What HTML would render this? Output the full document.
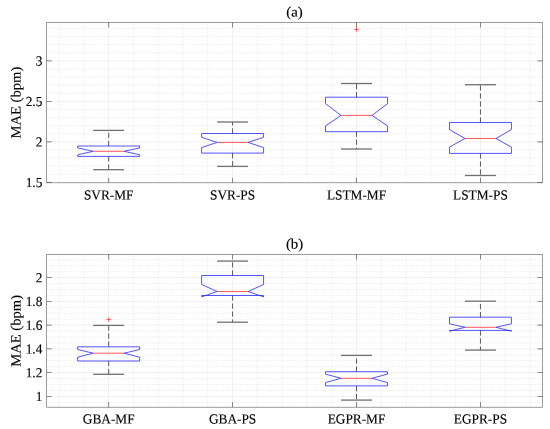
<!DOCTYPE html>
<html lang="en"><head><meta charset="utf-8"><title>Boxplots of MAE (bpm)</title>
<style>
html,body{margin:0;padding:0;background:#fff;}
body{width:550px;height:429px;overflow:hidden;}
svg{display:block;font-family:"Liberation Serif","Times New Roman",serif;}
.ax{stroke:#262626;stroke-width:0.6;opacity:.75}
.tk{stroke:#262626;stroke-width:.7;opacity:.8}
.mj{stroke:#eeeeee;stroke-width:.9}
.mn{stroke:#e4e4e4;stroke-width:.8;stroke-dasharray:1 1.2}
.wh{stroke:#333;stroke-width:.8;stroke-dasharray:5.2 2.8}
.cap{stroke:#707070;stroke-width:1.3}
.bx{stroke:#2a2aff;stroke-width:.8;fill:none;stroke-linejoin:miter}
.md{stroke:#ff3030;stroke-width:.8}
.ol{stroke:#ff3030;stroke-width:.7;fill:none}
.t text{fill:#000;stroke:#000;stroke-width:.14}
</style></head>
<body>
<svg width="550" height="429" viewBox="0 0 550 429">
<rect width="550" height="429" fill="#fff"/>
<g><line x1="59.09" y1="22.5" x2="59.09" y2="182.8" class="mn"/><line x1="83.88" y1="22.5" x2="83.88" y2="182.8" class="mn"/><line x1="108.66" y1="22.5" x2="108.66" y2="182.8" class="mj"/><line x1="133.45" y1="22.5" x2="133.45" y2="182.8" class="mn"/><line x1="158.23" y1="22.5" x2="158.23" y2="182.8" class="mn"/><line x1="183.02" y1="22.5" x2="183.02" y2="182.8" class="mn"/><line x1="207.80" y1="22.5" x2="207.80" y2="182.8" class="mn"/><line x1="232.59" y1="22.5" x2="232.59" y2="182.8" class="mj"/><line x1="257.37" y1="22.5" x2="257.37" y2="182.8" class="mn"/><line x1="282.16" y1="22.5" x2="282.16" y2="182.8" class="mn"/><line x1="306.94" y1="22.5" x2="306.94" y2="182.8" class="mn"/><line x1="331.73" y1="22.5" x2="331.73" y2="182.8" class="mn"/><line x1="356.51" y1="22.5" x2="356.51" y2="182.8" class="mj"/><line x1="381.30" y1="22.5" x2="381.30" y2="182.8" class="mn"/><line x1="406.08" y1="22.5" x2="406.08" y2="182.8" class="mn"/><line x1="430.87" y1="22.5" x2="430.87" y2="182.8" class="mn"/><line x1="455.65" y1="22.5" x2="455.65" y2="182.8" class="mn"/><line x1="480.44" y1="22.5" x2="480.44" y2="182.8" class="mj"/><line x1="505.22" y1="22.5" x2="505.22" y2="182.8" class="mn"/><line x1="530.01" y1="22.5" x2="530.01" y2="182.8" class="mn"/><line x1="46.7" y1="174.30" x2="542.4" y2="174.30" class="mn"/><line x1="46.7" y1="166.20" x2="542.4" y2="166.20" class="mn"/><line x1="46.7" y1="158.10" x2="542.4" y2="158.10" class="mn"/><line x1="46.7" y1="150.00" x2="542.4" y2="150.00" class="mn"/><line x1="46.7" y1="141.90" x2="542.4" y2="141.90" class="mj"/><line x1="46.7" y1="133.80" x2="542.4" y2="133.80" class="mn"/><line x1="46.7" y1="125.70" x2="542.4" y2="125.70" class="mn"/><line x1="46.7" y1="117.60" x2="542.4" y2="117.60" class="mn"/><line x1="46.7" y1="109.50" x2="542.4" y2="109.50" class="mn"/><line x1="46.7" y1="101.40" x2="542.4" y2="101.40" class="mj"/><line x1="46.7" y1="93.30" x2="542.4" y2="93.30" class="mn"/><line x1="46.7" y1="85.20" x2="542.4" y2="85.20" class="mn"/><line x1="46.7" y1="77.10" x2="542.4" y2="77.10" class="mn"/><line x1="46.7" y1="69.00" x2="542.4" y2="69.00" class="mn"/><line x1="46.7" y1="60.90" x2="542.4" y2="60.90" class="mj"/><line x1="46.7" y1="52.80" x2="542.4" y2="52.80" class="mn"/><line x1="46.7" y1="44.70" x2="542.4" y2="44.70" class="mn"/><line x1="46.7" y1="36.60" x2="542.4" y2="36.60" class="mn"/><line x1="46.7" y1="28.50" x2="542.4" y2="28.50" class="mn"/></g>
<g><line x1="108.66" y1="146.00" x2="108.66" y2="130.40" class="wh"/><line x1="108.66" y1="156.40" x2="108.66" y2="169.70" class="wh"/><line x1="93.17" y1="130.40" x2="124.15" y2="130.40" class="cap"/><line x1="93.17" y1="169.70" x2="124.15" y2="169.70" class="cap"/><polyline points="77.68,156.40 77.68,154.80 93.17,151.30 77.68,147.90 77.68,146.00 139.64,146.00 139.64,147.90 124.15,151.30 139.64,154.80 139.64,156.40 77.68,156.40" class="bx"/><line x1="93.17" y1="151.30" x2="124.15" y2="151.30" class="md"/></g>
<g><line x1="232.59" y1="133.50" x2="232.59" y2="122.00" class="wh"/><line x1="232.59" y1="153.10" x2="232.59" y2="166.40" class="wh"/><line x1="217.10" y1="122.00" x2="248.08" y2="122.00" class="cap"/><line x1="217.10" y1="166.40" x2="248.08" y2="166.40" class="cap"/><polyline points="201.61,153.10 201.61,147.60 217.10,142.40 201.61,137.30 201.61,133.50 263.57,133.50 263.57,137.30 248.08,142.40 263.57,147.60 263.57,153.10 201.61,153.10" class="bx"/><line x1="217.10" y1="142.40" x2="248.08" y2="142.40" class="md"/></g>
<g><line x1="356.51" y1="97.20" x2="356.51" y2="83.50" class="wh"/><line x1="356.51" y1="131.70" x2="356.51" y2="149.00" class="wh"/><line x1="341.02" y1="83.50" x2="372.00" y2="83.50" class="cap"/><line x1="341.02" y1="149.00" x2="372.00" y2="149.00" class="cap"/><polyline points="325.53,131.70 325.53,125.90 341.02,115.40 325.53,103.70 325.53,97.20 387.49,97.20 387.49,103.70 372.00,115.40 387.49,125.90 387.49,131.70 325.53,131.70" class="bx"/><line x1="341.02" y1="115.40" x2="372.00" y2="115.40" class="md"/><path d="M354.21 29.50H358.81M356.51 27.20V31.80" class="ol"/></g>
<g><line x1="480.44" y1="122.50" x2="480.44" y2="84.70" class="wh"/><line x1="480.44" y1="153.40" x2="480.44" y2="175.50" class="wh"/><line x1="464.95" y1="84.70" x2="495.93" y2="84.70" class="cap"/><line x1="464.95" y1="175.50" x2="495.93" y2="175.50" class="cap"/><polyline points="449.46,153.40 449.46,147.10 464.95,138.50 449.46,129.60 449.46,122.50 511.42,122.50 511.42,129.60 495.93,138.50 511.42,147.10 511.42,153.40 449.46,153.40" class="bx"/><line x1="464.95" y1="138.50" x2="495.93" y2="138.50" class="md"/></g>
<g><rect x="46.7" y="22.5" width="495.70" height="160.30" class="ax" fill="none"/><line x1="108.66" y1="182.8" x2="108.66" y2="177.8" class="tk"/><line x1="108.66" y1="22.5" x2="108.66" y2="27.5" class="tk"/><line x1="232.59" y1="182.8" x2="232.59" y2="177.8" class="tk"/><line x1="232.59" y1="22.5" x2="232.59" y2="27.5" class="tk"/><line x1="356.51" y1="182.8" x2="356.51" y2="177.8" class="tk"/><line x1="356.51" y1="22.5" x2="356.51" y2="27.5" class="tk"/><line x1="480.44" y1="182.8" x2="480.44" y2="177.8" class="tk"/><line x1="480.44" y1="22.5" x2="480.44" y2="27.5" class="tk"/><line x1="46.7" y1="182.40" x2="51.7" y2="182.40" class="tk"/><line x1="542.4" y1="182.40" x2="537.4" y2="182.40" class="tk"/><line x1="46.7" y1="141.90" x2="51.7" y2="141.90" class="tk"/><line x1="542.4" y1="141.90" x2="537.4" y2="141.90" class="tk"/><line x1="46.7" y1="101.40" x2="51.7" y2="101.40" class="tk"/><line x1="542.4" y1="101.40" x2="537.4" y2="101.40" class="tk"/><line x1="46.7" y1="60.90" x2="51.7" y2="60.90" class="tk"/><line x1="542.4" y1="60.90" x2="537.4" y2="60.90" class="tk"/></g>
<g><line x1="59.09" y1="254.5" x2="59.09" y2="407.2" class="mn"/><line x1="83.88" y1="254.5" x2="83.88" y2="407.2" class="mn"/><line x1="108.66" y1="254.5" x2="108.66" y2="407.2" class="mj"/><line x1="133.45" y1="254.5" x2="133.45" y2="407.2" class="mn"/><line x1="158.23" y1="254.5" x2="158.23" y2="407.2" class="mn"/><line x1="183.02" y1="254.5" x2="183.02" y2="407.2" class="mn"/><line x1="207.80" y1="254.5" x2="207.80" y2="407.2" class="mn"/><line x1="232.59" y1="254.5" x2="232.59" y2="407.2" class="mj"/><line x1="257.37" y1="254.5" x2="257.37" y2="407.2" class="mn"/><line x1="282.16" y1="254.5" x2="282.16" y2="407.2" class="mn"/><line x1="306.94" y1="254.5" x2="306.94" y2="407.2" class="mn"/><line x1="331.73" y1="254.5" x2="331.73" y2="407.2" class="mn"/><line x1="356.51" y1="254.5" x2="356.51" y2="407.2" class="mj"/><line x1="381.30" y1="254.5" x2="381.30" y2="407.2" class="mn"/><line x1="406.08" y1="254.5" x2="406.08" y2="407.2" class="mn"/><line x1="430.87" y1="254.5" x2="430.87" y2="407.2" class="mn"/><line x1="455.65" y1="254.5" x2="455.65" y2="407.2" class="mn"/><line x1="480.44" y1="254.5" x2="480.44" y2="407.2" class="mj"/><line x1="505.22" y1="254.5" x2="505.22" y2="407.2" class="mn"/><line x1="530.01" y1="254.5" x2="530.01" y2="407.2" class="mn"/><line x1="46.7" y1="402.34" x2="542.4" y2="402.34" class="mn"/><line x1="46.7" y1="396.40" x2="542.4" y2="396.40" class="mj"/><line x1="46.7" y1="390.46" x2="542.4" y2="390.46" class="mn"/><line x1="46.7" y1="384.52" x2="542.4" y2="384.52" class="mn"/><line x1="46.7" y1="378.58" x2="542.4" y2="378.58" class="mn"/><line x1="46.7" y1="372.64" x2="542.4" y2="372.64" class="mj"/><line x1="46.7" y1="366.70" x2="542.4" y2="366.70" class="mn"/><line x1="46.7" y1="360.76" x2="542.4" y2="360.76" class="mn"/><line x1="46.7" y1="354.82" x2="542.4" y2="354.82" class="mn"/><line x1="46.7" y1="348.88" x2="542.4" y2="348.88" class="mj"/><line x1="46.7" y1="342.94" x2="542.4" y2="342.94" class="mn"/><line x1="46.7" y1="337.00" x2="542.4" y2="337.00" class="mn"/><line x1="46.7" y1="331.06" x2="542.4" y2="331.06" class="mn"/><line x1="46.7" y1="325.12" x2="542.4" y2="325.12" class="mj"/><line x1="46.7" y1="319.18" x2="542.4" y2="319.18" class="mn"/><line x1="46.7" y1="313.24" x2="542.4" y2="313.24" class="mn"/><line x1="46.7" y1="307.30" x2="542.4" y2="307.30" class="mn"/><line x1="46.7" y1="301.36" x2="542.4" y2="301.36" class="mj"/><line x1="46.7" y1="295.42" x2="542.4" y2="295.42" class="mn"/><line x1="46.7" y1="289.48" x2="542.4" y2="289.48" class="mn"/><line x1="46.7" y1="283.54" x2="542.4" y2="283.54" class="mn"/><line x1="46.7" y1="277.60" x2="542.4" y2="277.60" class="mj"/><line x1="46.7" y1="271.66" x2="542.4" y2="271.66" class="mn"/><line x1="46.7" y1="265.72" x2="542.4" y2="265.72" class="mn"/><line x1="46.7" y1="259.78" x2="542.4" y2="259.78" class="mn"/></g>
<g><line x1="108.66" y1="346.80" x2="108.66" y2="325.40" class="wh"/><line x1="108.66" y1="361.00" x2="108.66" y2="374.30" class="wh"/><line x1="93.17" y1="325.40" x2="124.15" y2="325.40" class="cap"/><line x1="93.17" y1="374.30" x2="124.15" y2="374.30" class="cap"/><polyline points="77.68,361.00 77.68,357.20 93.17,353.20 77.68,349.50 77.68,346.80 139.64,346.80 139.64,349.50 124.15,353.20 139.64,357.20 139.64,361.00 77.68,361.00" class="bx"/><line x1="93.17" y1="353.20" x2="124.15" y2="353.20" class="md"/><path d="M106.36 319.50H110.96M108.66 317.20V321.80" class="ol"/></g>
<g><line x1="232.59" y1="275.50" x2="232.59" y2="261.10" class="wh"/><line x1="232.59" y1="295.50" x2="232.59" y2="322.20" class="wh"/><line x1="217.10" y1="261.10" x2="248.08" y2="261.10" class="cap"/><line x1="217.10" y1="322.20" x2="248.08" y2="322.20" class="cap"/><polyline points="201.61,295.50 201.61,296.90 217.10,291.50 201.61,284.50 201.61,275.50 263.57,275.50 263.57,284.50 248.08,291.50 263.57,296.90 263.57,295.50 201.61,295.50" class="bx"/><line x1="217.10" y1="291.50" x2="248.08" y2="291.50" class="md"/></g>
<g><line x1="356.51" y1="371.70" x2="356.51" y2="355.40" class="wh"/><line x1="356.51" y1="385.90" x2="356.51" y2="400.10" class="wh"/><line x1="341.02" y1="355.40" x2="372.00" y2="355.40" class="cap"/><line x1="341.02" y1="400.10" x2="372.00" y2="400.10" class="cap"/><polyline points="325.53,385.90 325.53,382.60 341.02,378.30 325.53,374.10 325.53,371.70 387.49,371.70 387.49,374.10 372.00,378.30 387.49,382.60 387.49,385.90 325.53,385.90" class="bx"/><line x1="341.02" y1="378.30" x2="372.00" y2="378.30" class="md"/></g>
<g><line x1="480.44" y1="317.20" x2="480.44" y2="301.20" class="wh"/><line x1="480.44" y1="330.40" x2="480.44" y2="350.10" class="wh"/><line x1="464.95" y1="301.20" x2="495.93" y2="301.20" class="cap"/><line x1="464.95" y1="350.10" x2="495.93" y2="350.10" class="cap"/><polyline points="449.46,330.40 449.46,331.20 464.95,327.30 449.46,323.80 449.46,317.20 511.42,317.20 511.42,323.80 495.93,327.30 511.42,331.20 511.42,330.40 449.46,330.40" class="bx"/><line x1="464.95" y1="327.30" x2="495.93" y2="327.30" class="md"/></g>
<g><rect x="46.7" y="254.5" width="495.70" height="152.70" class="ax" fill="none"/><line x1="108.66" y1="407.2" x2="108.66" y2="402.2" class="tk"/><line x1="108.66" y1="254.5" x2="108.66" y2="259.5" class="tk"/><line x1="232.59" y1="407.2" x2="232.59" y2="402.2" class="tk"/><line x1="232.59" y1="254.5" x2="232.59" y2="259.5" class="tk"/><line x1="356.51" y1="407.2" x2="356.51" y2="402.2" class="tk"/><line x1="356.51" y1="254.5" x2="356.51" y2="259.5" class="tk"/><line x1="480.44" y1="407.2" x2="480.44" y2="402.2" class="tk"/><line x1="480.44" y1="254.5" x2="480.44" y2="259.5" class="tk"/><line x1="46.7" y1="396.40" x2="51.7" y2="396.40" class="tk"/><line x1="542.4" y1="396.40" x2="537.4" y2="396.40" class="tk"/><line x1="46.7" y1="372.64" x2="51.7" y2="372.64" class="tk"/><line x1="542.4" y1="372.64" x2="537.4" y2="372.64" class="tk"/><line x1="46.7" y1="348.88" x2="51.7" y2="348.88" class="tk"/><line x1="542.4" y1="348.88" x2="537.4" y2="348.88" class="tk"/><line x1="46.7" y1="325.12" x2="51.7" y2="325.12" class="tk"/><line x1="542.4" y1="325.12" x2="537.4" y2="325.12" class="tk"/><line x1="46.7" y1="301.36" x2="51.7" y2="301.36" class="tk"/><line x1="542.4" y1="301.36" x2="537.4" y2="301.36" class="tk"/><line x1="46.7" y1="277.60" x2="51.7" y2="277.60" class="tk"/><line x1="542.4" y1="277.60" x2="537.4" y2="277.60" class="tk"/></g>
<g class="t"><text transform="translate(108.66 199.50) rotate(0.04) scale(0.965 1)" text-anchor="middle" font-size="13.8">SVR-MF</text><text transform="translate(232.59 199.50) rotate(0.04) scale(0.965 1)" text-anchor="middle" font-size="13.8">SVR-PS</text><text transform="translate(356.51 199.50) rotate(0.04) scale(0.965 1)" text-anchor="middle" font-size="13.8">LSTM-MF</text><text transform="translate(480.44 199.50) rotate(0.04) scale(0.965 1)" text-anchor="middle" font-size="13.8">LSTM-PS</text><text transform="translate(108.66 423.50) rotate(0.04) scale(0.965 1)" text-anchor="middle" font-size="13.8">GBA-MF</text><text transform="translate(232.59 423.50) rotate(0.04) scale(0.965 1)" text-anchor="middle" font-size="13.8">GBA-PS</text><text transform="translate(356.51 423.50) rotate(0.04) scale(0.965 1)" text-anchor="middle" font-size="13.8">EGPR-MF</text><text transform="translate(480.44 423.50) rotate(0.04) scale(0.965 1)" text-anchor="middle" font-size="13.8">EGPR-PS</text><text transform="translate(42.30 187.00) rotate(0.04) scale(0.965 1)" text-anchor="end" font-size="13.8">1.5</text><text transform="translate(42.30 146.50) rotate(0.04) scale(0.965 1)" text-anchor="end" font-size="13.8">2</text><text transform="translate(42.30 106.00) rotate(0.04) scale(0.965 1)" text-anchor="end" font-size="13.8">2.5</text><text transform="translate(42.30 65.50) rotate(0.04) scale(0.965 1)" text-anchor="end" font-size="13.8">3</text><text transform="translate(42.30 401.00) rotate(0.04) scale(0.965 1)" text-anchor="end" font-size="13.8">1</text><text transform="translate(42.30 377.24) rotate(0.04) scale(0.965 1)" text-anchor="end" font-size="13.8">1.2</text><text transform="translate(42.30 353.48) rotate(0.04) scale(0.965 1)" text-anchor="end" font-size="13.8">1.4</text><text transform="translate(42.30 329.72) rotate(0.04) scale(0.965 1)" text-anchor="end" font-size="13.8">1.6</text><text transform="translate(42.30 305.96) rotate(0.04) scale(0.965 1)" text-anchor="end" font-size="13.8">1.8</text><text transform="translate(42.30 282.20) rotate(0.04) scale(0.965 1)" text-anchor="end" font-size="13.8">2</text><text transform="translate(294.55 16.60) rotate(0.04) scale(1.04 1)" text-anchor="middle" font-size="14.3">(a)</text><text transform="translate(294.55 248.50) rotate(0.04) scale(1.04 1)" text-anchor="middle" font-size="14.3">(b)</text><text transform="translate(20.50 102.65) rotate(-90.04) scale(1 0.96)" text-anchor="middle" font-size="14.65">MAE (bpm)</text><text transform="translate(20.50 330.85) rotate(-90.04) scale(1 0.96)" text-anchor="middle" font-size="14.65">MAE (bpm)</text></g>
</svg>
</body></html>
